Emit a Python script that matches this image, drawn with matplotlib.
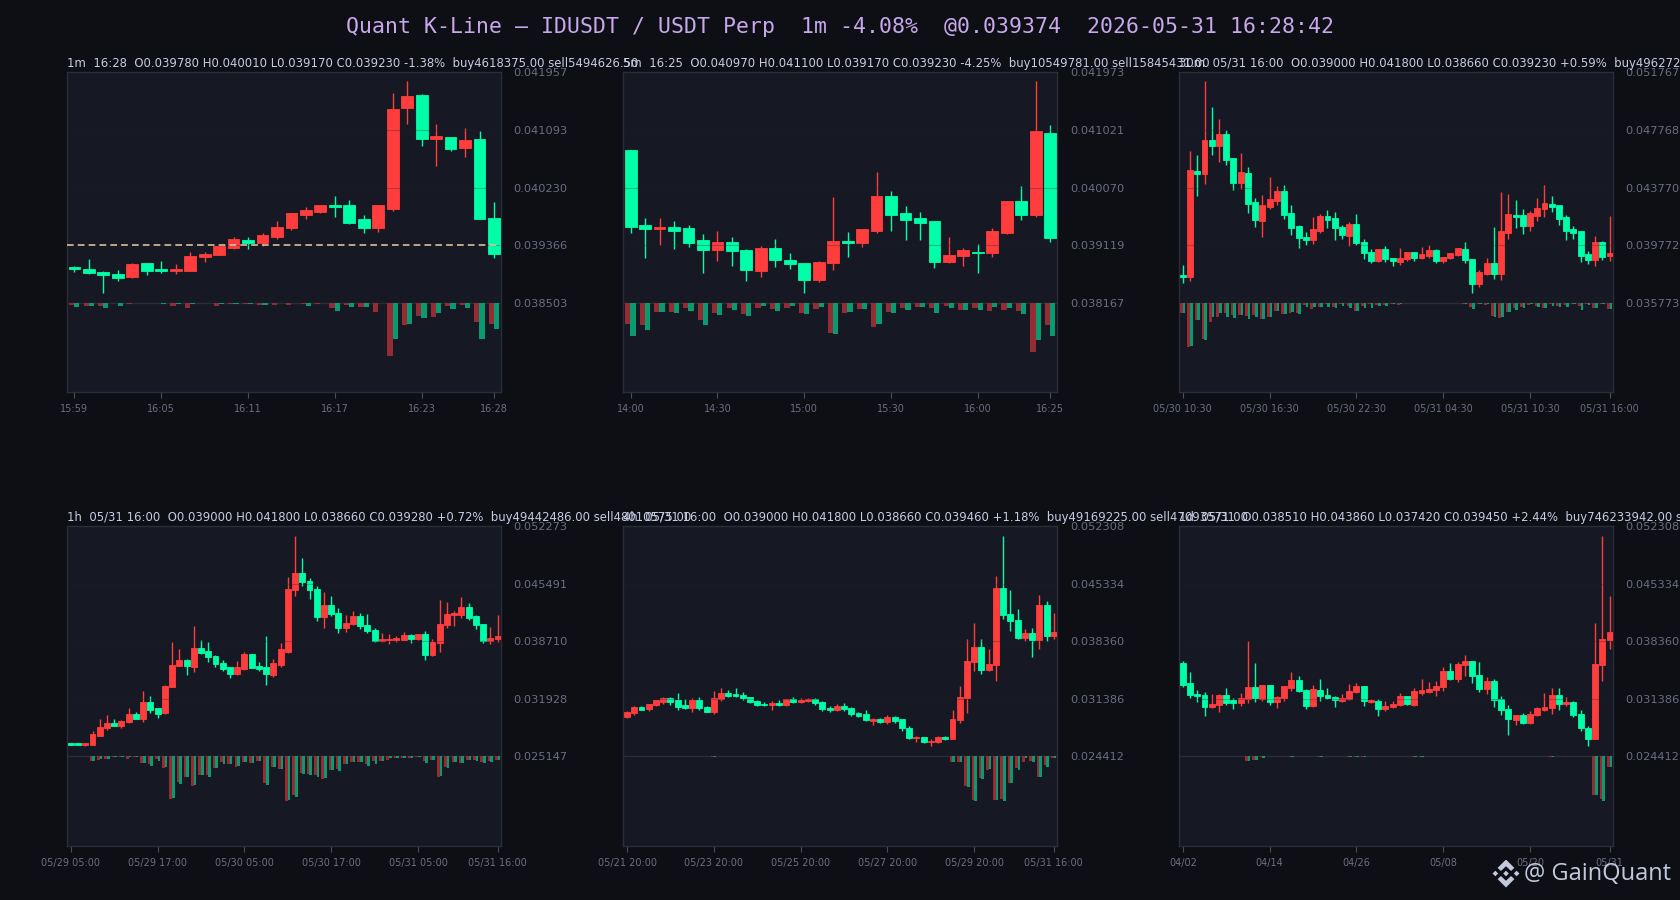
import matplotlib
matplotlib.use("Agg")
import matplotlib.pyplot as plt
import numpy as np
from matplotlib.patches import Polygon

# prices are in 1e-6 USDT, volumes in millions
PRICE_UNIT = 1e-6

#########
# Data  #
#########

title = "Quant K-Line — IDUSDT / USDT Perp  1m -4.08%  @0.039374  2026-05-31 16:28:42"
last_price = 0.039374

# 1m
o_1m = [39030,39014,38969,38939,38889,39090,39000,38974,38979,39180,39220,39325,39436,39400,39491,39626,39822,39867,39962,39962,39751,39626,39912,41416,41616,40965,40985,40829,40955,39780]
h_1m = [39055,39150,38974,38999,39090,39090,39120,39085,39265,39265,39350,39481,39491,39541,39721,39842,39942,39962,40097,40037,39812,39962,41646,41827,41631,41180,40990,41120,41075,40010]
l_1m = [38964,38934,38648,38829,38874,38919,38944,38934,38979,39115,39220,39310,39310,39355,39461,39596,39761,39852,39792,39686,39551,39566,39882,41180,40859,40559,40784,40694,39761,39170]
c_1m = [39009,38949,38919,38874,39075,38979,38974,39000,39195,39225,39345,39451,39390,39511,39631,39842,39887,39962,39937,39701,39626,39962,41406,41601,40965,41005,40814,40940,39761,39230]
buy_1m = [.42,.77,.63,.14,.35,.07,.14,.77,1.2,.14,.7,.35,.28,.56,.56,.56,.35,.35,1.2,.56,.99,2.04,11.2,4.79,2.89,3.1,.77,.56,4.15,4.62]
sell_1m = [.99,.77,1.2,.77,.07,.14,.35,.28,.28,.07,.28,.28,.28,.56,.14,.07,.77,.14,1.83,.99,.99,.14,7.6,4.58,3.31,2.25,1.41,1.2,7.6,5.49]

# 5m
o_5m = [40686,39443,39388,39410,39393,39194,39040,39161,39029,38691,39062,38879,38830,38542,38824,39178,39156,39354,39923,39642,39559,39509,38841,38940,39012,38990,39321,39840,39620,40970]
h_5m = [40686,39559,39559,39509,39443,39294,39343,39260,39056,39106,39211,38995,38830,38863,39907,39327,39376,40321,40006,39758,39658,39509,39260,39073,39144,39393,39840,40089,41829,41100]
l_5m = [39310,38912,39122,39056,39089,38658,38857,38774,38526,38592,38758,38725,38327,38509,38708,38924,39089,39321,39354,39205,39205,38741,38819,38774,38658,38924,39305,39537,39575,39170]
c_5m = [39421,39388,39410,39354,39156,39040,39161,39023,38708,39078,38874,38807,38548,38846,39178,39156,39376,39923,39620,39537,39487,38841,38962,39029,38990,39343,39840,39620,40999,39230]
buy_5m = [10.1,11.0,4.3,4.3,2.4,8.6,4.8,2.4,5.3,2.4,2.9,2.4,4.8,2.9,14.4,4.8,2.9,11.5,4.3,2.4,1.9,2.4,1.4,3.4,2.4,3.8,3.4,3.8,24.0,10.55]
sell_5m = [16.3,13.0,4.3,4.8,3.8,11.0,5.8,3.4,6.2,1.4,3.8,1.4,5.3,1.9,14.9,4.3,2.9,10.1,4.8,3.4,1.9,4.8,2.4,3.4,3.4,1.9,2.4,5.3,18.2,15.85]

# 30m
o_30m = [37723,37561,44895,44733,47054,46682,47471,45800,44106,44756,42736,41460,42435,42806,43503,41971,41065,40346,40137,40764,41762,41623,41042,40416,41205,39998,39301,38675,39464,38907,38605,38814,39255,38884,39046,39394,38675,38907,39093,39464,38837,37073,37793,38536,37770,40624,41878,41831,41112,41808,42249,42644,42528,41692,40856,40717,39116,38745,39951,39000]
h_30m = [38419,46288,46009,51162,49351,48516,47750,45800,46149,45173,43015,43224,44477,43851,43920,42528,41182,40694,41738,41947,42180,42040,41182,41344,41901,40207,39510,39464,39673,38907,39533,39255,39301,39603,39742,39464,38976,39186,39533,39951,38837,38048,38907,41042,43479,43294,42876,42249,42156,43015,43920,43154,42528,41831,41112,40717,39371,40369,40021,41800]
l_30m = [37143,37282,43201,44036,46056,45568,45313,43618,43688,42017,41043,40300,42296,42574,41599,40485,39580,39789,39859,40624,40973,40137,40207,39719,39789,38814,38536,38605,38605,38327,38396,38675,38675,38814,38907,38536,38536,38837,39023,38536,36446,36864,37700,37421,37352,40207,40973,40555,40764,41460,41738,42087,41182,40137,40207,38605,38466,38327,38767,38660]
c_30m = [37561,44965,44733,47054,46682,47471,45708,44106,44825,42644,41530,42528,42946,43503,41878,40973,40276,40137,40856,41762,41530,40973,40485,41205,39928,39232,38675,39464,38814,38675,38907,39255,38907,39116,39394,38675,38976,39186,39533,38745,37073,37909,38536,37770,40717,41901,41738,41112,41971,42319,42667,42435,41599,40764,40624,39023,38745,39951,38953,39230]
buy_30m = [88,368,140,297,157,116,88,99,99,110,99,132,121,66,91,83,83,17,50,33,14,33,14,28,66,25,14,17,22,11,19,5.5,2.8,5.5,5.5,5.5,0,0,0,8,33,11,17,110,124,74,41,33,22,28,41,14,25,17,11,25,8,41,11,49.6]
sell_30m = [83,355,140,305,116,88,121,124,99,132,116,132,116,66,91,77,91,39,33,33,33,41,25,41,66,41,41,25,25,14,8,5.5,2.8,5.5,2.8,2.8,0,0,0,14,55,14,8,116,116,74,61,41,14,33,41,25,33,33,8,58,22,41,8,49]

# 1h
o_1h = [26717,26678,26442,26442,27581,28445,29112,28680,29152,30133,29505,31546,30840,30212,33274,35786,36493,35630,37907,37553,37004,36140,35669,34805,35433,37200,35786,35669,34687,35904,37475,44699,46740,45798,44856,41519,42971,42029,40223,40694,41675,40616,40027,38692,38888,38809,38809,39438,38927,39555,37043,38495,40616,41793,41793,42735,41675,40733,38731,39000]
h_1h = [26757,26717,26717,28092,29544,30015,29544,29466,30800,30329,32842,32253,30879,33509,38574,37789,36611,40498,38849,38574,37082,36493,35669,36375,37435,37200,36258,39320,36611,38495,46230,51059,48467,46151,45170,44502,43992,42578,41793,42264,42029,41872,40262,39634,39555,39281,39752,39555,39595,39909,38967,43521,43285,42264,43913,43167,41793,40733,40380,41800]
l_1h = [26482,26442,26325,26442,27503,28209,28680,28445,29033,29505,29191,30251,29623,30133,33274,35786,34726,35041,37200,36258,35669,35197,34373,34726,35315,35551,35197,33549,34491,35669,37318,44031,45170,43678,41087,40223,41636,39673,39752,40576,40144,39634,38652,38613,38339,38574,38809,38495,38888,36454,36964,37435,40262,40498,41440,41243,40144,38495,38377,38660]
c_1h = [26521,26482,26717,27778,28603,29073,28680,29270,30133,29505,31546,30563,30094,33470,35904,36493,35786,37907,37318,36846,35983,35433,34805,35669,37200,35590,35433,34805,36140,37789,44856,46740,45680,44699,41519,42971,41872,40223,40851,41675,40458,39948,38692,38967,38967,39084,39438,38927,39555,37043,38613,40733,41911,42029,42735,41479,40616,38731,39084,39280]
buy_1h = [0,0,0,62,49,33,8,8,33,8,82,98,33,148,525,320,258,369,234,234,148,74,98,131,74,86,62,332,135,160,554,480,209,221,234,283,172,160,98,74,74,98,62,62,41,21,21,16,4,62,49,258,135,74,82,49,49,74,62,49.4]
sell_1h = [0,0,0,62,37,33,8,8,12,4,82,123,57,135,517,344,258,357,234,258,148,98,98,115,74,86,62,357,135,160,541,504,221,234,258,271,172,185,98,74,74,123,98,62,25,21,21,21,4,86,49,246,148,74,86,49,62,86,74,48]

# 4h
o_4h = [29135,29620,30427,30104,30629,31033,31477,31235,30629,30225,31235,30387,29741,31356,32042,32001,31840,31557,31113,30750,30589,30871,30589,31356,30952,31073,31356,30992,30266,29983,30467,30266,29620,29539,28651,28933,28529,29175,28933,27885,26592,26713,26107,26107,26753,26471,28771,31436,35837,37653,34828,35433,44799,41650,40923,38703,39349,38461,42740,39000]
h_4h = [29862,30467,30467,30790,31275,31598,31557,32042,31356,31436,31598,30467,32324,32688,32446,32688,32204,31598,31194,30992,31113,31194,31356,31598,31477,31477,31477,31113,30467,30710,30871,30387,29741,30023,29014,29014,29418,29337,28974,28086,26834,26793,26471,26874,26834,30023,32930,38622,40520,38582,37411,46252,51056,44556,42256,39793,39955,43911,43225,41800]
l_4h = [29014,29378,29983,29862,30467,30710,30589,29983,30104,29741,29983,29741,29499,31113,31557,31598,31194,30871,30467,30467,29983,30467,30467,30911,30871,31033,30629,29862,29741,29902,29862,29257,29135,28651,28166,28409,28288,28409,27440,26471,26107,25987,25623,25987,26350,26471,28409,29620,34706,34343,34706,33495,41004,39551,38622,38339,36401,37371,38339,38660]
c_4h = [29781,30387,30064,30710,31235,31477,31033,30346,30225,31235,30225,29741,31477,32082,31679,31679,31436,30952,30589,30589,30871,30589,31356,30952,31194,31356,30831,30104,29983,30467,30104,29499,29257,28771,28933,28529,29135,28691,27803,26592,26753,26107,26229,26713,26471,28933,31598,35958,37653,34828,35595,44799,41488,40762,38703,39349,38461,42740,38945,39460]
buy_4h = [0,0,0,0,0,0,0,0,0,0,0,0,22,0,0,0,0,0,0,0,0,0,0,0,0,0,0,0,0,0,0,0,0,0,0,0,0,0,0,0,0,0,0,0,0,198,198,990,1452,726,440,1452,1408,891,396,198,165,693,297,49]
sell_4h = [0,0,0,0,0,0,0,0,0,0,0,0,22,0,0,0,0,0,0,0,0,0,0,0,0,0,0,0,0,0,0,0,0,0,0,0,0,0,0,0,0,0,0,0,0,198,198,1023,1485,759,429,1452,1485,891,462,55,198,693,363,50]

# 1d
o_1d = [35756,33293,31961,31840,30346,30589,31840,31194,30831,31356,32809,31356,33051,30952,31436,32688,33656,32446,30467,32446,31840,31598,31113,31356,32204,32930,30952,31113,30104,30346,30589,31719,30629,32042,32204,32405,32809,34747,33738,35473,35958,34262,32527,33535,31356,30104,28853,29418,28409,29378,30064,30225,31840,30710,30992,29539,27843,26471,35433,38510]
h_1d = [35917,34585,32446,32204,31961,31961,32688,31436,32082,38380,35716,33092,33051,31679,32930,34625,34141,32567,33051,33777,32688,31679,31961,33172,33293,32930,31356,31356,31113,31113,32082,31759,32648,33777,33414,33535,35231,35716,35837,36685,35958,35837,34020,33777,31719,30629,29418,29660,29902,30387,32082,32688,32688,31598,31073,30023,28045,40520,51056,43860]
l_1d = [32769,31477,30992,29257,30225,29741,30589,30104,30467,30831,30992,31073,30589,30225,31073,32324,32204,30104,30387,31073,31356,30346,30992,31275,32082,30467,30871,29257,29902,30225,30467,30589,30467,31800,32082,31679,32324,33656,33414,34101,33293,32204,31961,30387,29378,26955,28166,28288,28288,29257,29902,29499,29983,30467,29135,27440,25623,26471,33495,37420]
c_1d = [33011,31800,31679,30346,30750,31840,30831,30871,31477,32809,31436,33051,30952,31598,32930,33656,32324,30467,32567,31679,31436,31194,31477,32324,32930,31113,31235,30104,30548,30750,31719,30710,32324,32446,32567,32930,34747,33738,35595,35958,34101,32527,33535,31235,29983,28893,29378,28409,29539,30225,30346,31840,30750,30992,29378,27803,26471,35595,38622,39450]
buy_1d = [0,0,0,0,0,0,0,0,0,360,288,72,0,0,0,48,0,0,0,48,0,0,0,48,48,24,0,0,0,0,0,0,48,48,0,0,0,0,0,0,0,0,0,0,0,0,0,0,0,0,0,48,0,0,0,0,0,2808,3120,746]
sell_1d = [0,0,0,0,0,0,0,0,0,360,288,144,0,0,0,48,0,0,0,48,0,0,0,48,48,48,0,0,0,0,0,0,48,48,0,0,0,0,0,0,0,0,0,0,0,0,0,0,0,0,0,48,0,0,0,0,0,2808,3240,750]

# per panel labels
headers = [
    "1m  16:28  O0.039780 H0.040010 L0.039170 C0.039230 -1.38%  buy4618375.00 sell5494626.50",
    "5m  16:25  O0.040970 H0.041100 L0.039170 C0.039230 -4.25%  buy10549781.00 sell15845431.00",
    "30m  05/31 16:00  O0.039000 H0.041800 L0.038660 C0.039230 +0.59%  buy49627272.00 sell49200000.00",
    "1h  05/31 16:00  O0.039000 H0.041800 L0.038660 C0.039280 +0.72%  buy49442486.00 sell48010575.00",
    "4h  05/31 16:00  O0.039000 H0.041800 L0.038660 C0.039460 +1.18%  buy49169225.00 sell47093571.00",
    "1d  05/31  O0.038510 H0.043860 L0.037420 C0.039450 +2.44%  buy746233942.00 sell750000000.00",
]
yticks_all = [
    ["0.041957", "0.041093", "0.040230", "0.039366", "0.038503"],
    ["0.041973", "0.041021", "0.040070", "0.039119", "0.038167"],
    ["0.051767", "0.047768", "0.043770", "0.039772", "0.035773"],
    ["0.052273", "0.045491", "0.038710", "0.031928", "0.025147"],
    ["0.052308", "0.045334", "0.038360", "0.031386", "0.024412"],
    ["0.052308", "0.045334", "0.038360", "0.031386", "0.024412"],
]
xticks_all = [
    [0, 6, 12, 18, 24, 29],
    [0, 6, 12, 18, 24, 29],
    [0, 12, 24, 36, 48, 59],
    [0, 12, 24, 36, 48, 59],
    [0, 12, 24, 36, 48, 59],
    [0, 12, 24, 36, 48, 59],
]
xlabels_all = [
    ["15:59", "16:05", "16:11", "16:17", "16:23", "16:28"],
    ["14:00", "14:30", "15:00", "15:30", "16:00", "16:25"],
    ["05/30 10:30", "05/30 16:30", "05/30 22:30", "05/31 04:30", "05/31 10:30", "05/31 16:00"],
    ["05/29 05:00", "05/29 17:00", "05/30 05:00", "05/30 17:00", "05/31 05:00", "05/31 16:00"],
    ["05/21 20:00", "05/23 20:00", "05/25 20:00", "05/27 20:00", "05/29 20:00", "05/31 16:00"],
    ["04/02", "04/14", "04/26", "05/08", "05/20", "05/31"],
]
# volume at the bottom edge of each panel
vol_limits = [19.0, 43.2, 742, 1107, 2970, 6480]

candles = [
    (o_1m, h_1m, l_1m, c_1m, buy_1m, sell_1m),
    (o_5m, h_5m, l_5m, c_5m, buy_5m, sell_5m),
    (o_30m, h_30m, l_30m, c_30m, buy_30m, sell_30m),
    (o_1h, h_1h, l_1h, c_1h, buy_1h, sell_1h),
    (o_4h, h_4h, l_4h, c_4h, buy_4h, sell_4h),
    (o_1d, h_1d, l_1d, c_1d, buy_1d, sell_1d),
]

##########
# Styles #
##########

W, H = 1680, 900
BG = "#0d0f14"
PANEL = "#161923"
EDGE = "#2a2d3a"
RED = "#ff3d3d"
GREEN = "#00ffa8"
VOL_RED = "#952b33"
VOL_GREEN = "#0a9a70"
TICK = "#6b6e80"
HEADER = "#c8cce4"
TITLE = "#c8a8ec"
# below the base tick, the panel extends this share of the tick range
VOL_SHARE = 0.39

LEFTS = [67.2, 623.4, 1179.2]
TOPS = [72.4, 526.0]
PANEL_W = 434.0
PANEL_H = 320.0


def draw_panel(ax, data, header, yticks, xticks, xlabels, vol_limit):
    o, h, l, c, buy, sell = [np.array(v, dtype=float) for v in data]
    x = np.arange(len(o))
    up = c >= o
    colors = [RED if u else GREEN for u in up]

    ax.set_facecolor(PANEL)
    ax.vlines(x, l * PRICE_UNIT, h * PRICE_UNIT, colors=colors, linewidth=1.0, zorder=2)
    ax.bar(x, np.abs(c - o) * PRICE_UNIT, bottom=np.minimum(o, c) * PRICE_UNIT, width=0.82,
           color=colors, edgecolor=colors, linewidth=0.6, zorder=3)

    ticks = [float(t) for t in yticks]
    span = ticks[0] - ticks[-1]
    ax.set_ylim(ticks[-1] - span * VOL_SHARE, ticks[0])
    ax.set_xlim(-0.5, len(o) - 0.5)

    # volume hangs down from the base price line
    vol = ax.twinx()
    vol.bar(x - 0.19, buy, width=0.36, color=VOL_RED, linewidth=0, zorder=2)
    vol.bar(x + 0.17, sell, width=0.36, color=VOL_GREEN, linewidth=0, zorder=2)
    vol.set_ylim(vol_limit, -vol_limit / VOL_SHARE)
    vol.set_yticks([])
    for s in vol.spines.values():
        s.set_visible(False)

    # twinx moves the ticks of ax to the left, so set them after it
    ax.set_yticks(ticks, yticks)
    ax.yaxis.tick_right()
    ax.tick_params(axis="y", length=0, pad=9, labelsize=8.2, labelcolor=TICK)
    ax.set_xticks(xticks, xlabels)
    ax.tick_params(axis="x", length=4.3, width=0.8, color="#4a4d5c", pad=4,
                   labelsize=7.0, labelcolor=TICK)
    for t in ticks[1:-1]:
        ax.axhline(t, color="#1e2130", alpha=0.3, linewidth=0.8, zorder=5)
    ax.axhline(ticks[-1], color=EDGE, linewidth=1.0, zorder=5)
    for s in ax.spines.values():
        s.set_color(EDGE)
        s.set_linewidth(1.0)

    ax.text(0, 1.0 + 8.7 / PANEL_H, header, transform=ax.transAxes, color=HEADER,
            fontsize=8.4, va="center", ha="left", clip_on=False, zorder=10)


def draw_logo(fig, cx, cy, size):
    ax = fig.add_axes([(cx - size / 2) / W, 1 - (cy + size / 2) / H, size / W, size / H])
    ax.set_xlim(-1, 1)
    ax.set_ylim(-1, 1)
    ax.axis("off")
    color = "#c4c8dc"
    for dx, dy in [(0, 0), (-0.76, 0), (0.76, 0)]:
        r = 0.2
        ax.add_patch(Polygon([(dx, dy + r), (dx + r, dy), (dx, dy - r), (dx - r, dy)], color=color, lw=0))
    for sign in (1, -1):
        pts = [(0, 1), (0.6, 0.4), (0.36, 0.18), (0, 0.52), (-0.36, 0.18), (-0.6, 0.4)]
        ax.add_patch(Polygon([(px, sign * py) for px, py in pts], color=color, lw=0))


def main():
    fig = plt.figure(figsize=(W / 100, H / 100), dpi=100, facecolor=BG)
    fig.text(0.5, 1 - 26.7 / H, title, color=TITLE, fontsize=15.5, family="DejaVu Sans Mono",
             ha="center", va="center")

    axes = []
    for i in range(6):
        left = LEFTS[i % 3]
        top = TOPS[i // 3]
        ax = fig.add_axes([left / W, 1 - (top + PANEL_H) / H, PANEL_W / W, PANEL_H / H])
        draw_panel(ax, candles[i], headers[i], yticks_all[i], xticks_all[i], xlabels_all[i], vol_limits[i])
        axes.append(ax)

    axes[0].axhline(last_price, color="#d8c09a", linewidth=1.2, linestyle=(0, (4, 2.5)), zorder=6)

    draw_logo(fig, 1506, 873.5, 28)
    fig.text(1671 / W, 1 - 874 / H, "@ GainQuant", color="#c4c8dc", fontsize=17.0, family="Open Sans",
             ha="right", va="center")

    fig.savefig("out.png", dpi=100, facecolor=BG)
    plt.close(fig)


main()
